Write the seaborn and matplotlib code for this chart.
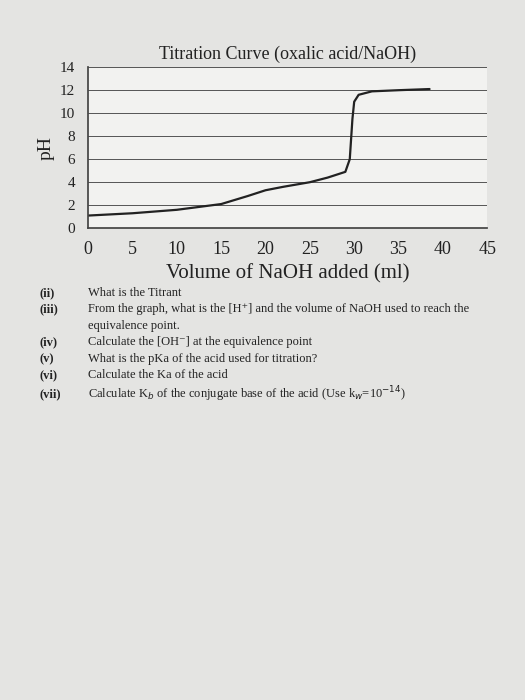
import matplotlib
matplotlib.use("Agg")
import matplotlib.pyplot as plt
import seaborn as sns
import pandas as pd

# titration curve
volume = [0, 5, 10, 15, 18, 20, 22, 25, 27, 29, 29.5, 29.8, 30, 30.5, 32, 35, 38.5]
ph = [1.1, 1.3, 1.6, 2.1, 2.8, 3.3, 3.6, 4.0, 4.4, 4.9, 6.0, 9.5, 11.0, 11.6, 11.9, 12.0, 12.1]
x_ticks = [0, 5, 10, 15, 20, 25, 30, 35, 40, 45]
y_ticks = [0, 2, 4, 6, 8, 10, 12, 14]

questions = [
    ("(ii)", "What is the Titrant"),
    ("(iii)", "From the graph, what is the [H\u207a] and the volume of NaOH used to reach the"),
    ("", "equivalence point."),
    ("(iv)", "Calculate the [OH\u207b] at the equivalence point"),
    ("(v)", "What is the pKa of the acid used for titration?"),
    ("(vi)", "Calculate the Ka of the acid"),
    ("(vii)", "Calculate K$_b$ of the conjugate base of the acid (Use k$_w$=10$^{-14}$)"),
]

sns.set_theme(style="white")
plt.rcParams['font.family'] = ['Liberation Serif', 'DejaVu Serif']

fig = plt.figure(figsize=(5.25, 7), dpi=100, facecolor='#e4e4e2')
ax = fig.add_axes([0.168, 0.674, 0.76, 0.23])
ax.set_facecolor('#f2f2f0')

df = pd.DataFrame({"volume": volume, "ph": ph})
sns.lineplot(data=df, x="volume", y="ph", ax=ax, color='#222222', linewidth=1.6, sort=False)

ax.set_xlim(0, 45)
ax.set_ylim(0, 14)
ax.set_xticks(x_ticks)
ax.set_yticks(y_ticks)
for y in y_ticks:
    ax.axhline(y, color='#555555', linewidth=0.7, zorder=0)
ax.tick_params(axis='x', labelsize=13, colors='#222222')
ax.tick_params(axis='y', labelsize=11, colors='#222222')
for s in ['top', 'right']:
    ax.spines[s].set_visible(False)
ax.spines['left'].set_color('#444444')
ax.spines['bottom'].set_color('#444444')
ax.set_xlabel("Volume of NaOH added (ml)", fontsize=15, color='#222222')
ax.set_ylabel("pH", fontsize=14, color='#222222')
ax.set_title("Titration Curve (oxalic acid/NaOH)", fontsize=13, color='#222222', pad=6)

y0 = 1 - 293 / 700
for i, (lab, txt) in enumerate(questions):
    y = y0 - i * 0.0235 if i < 6 else y0 - i * 0.0235 - 0.004
    fig.text(0.075, y, lab, fontsize=9, fontweight='bold', color='#222222', va='center')
    fig.text(0.168, y, txt, fontsize=9, color='#222222', va='center')

fig.savefig("out.png", dpi=100, facecolor=fig.get_facecolor())
